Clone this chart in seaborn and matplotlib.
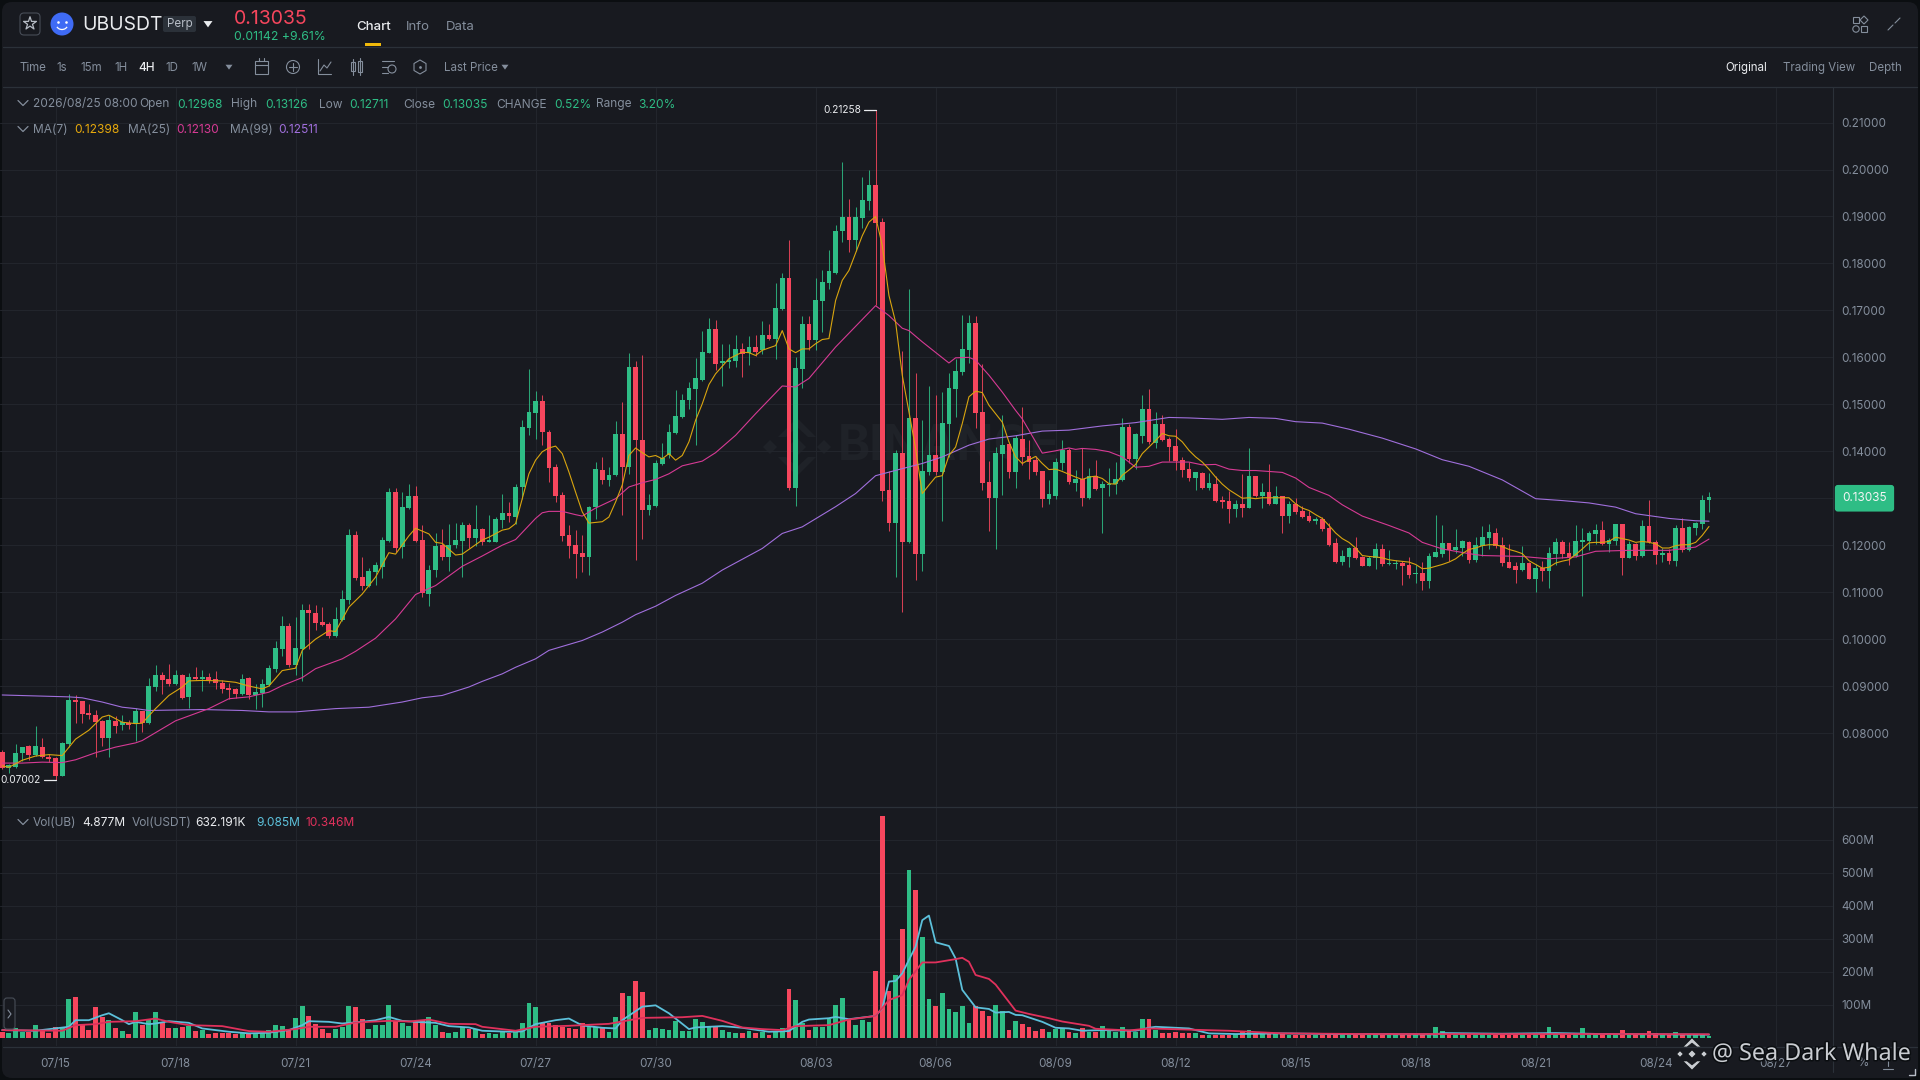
import numpy as np
import pandas as pd
import matplotlib
matplotlib.use("Agg")
import matplotlib.pyplot as plt
import matplotlib.patheffects as pe
from matplotlib.patches import Circle, FancyBboxPatch, Polygon, Arc, Rectangle
import seaborn as sns

# prices are written in units of 0.0001
opens = [760,726,727,757,772,754,771,750,747,709,
         776,870,869,843,839,826,790,826,818,821,
         822,846,821,899,924,916,904,924,876,920,
         916,919,916,907,896,894,884,917,880,886,
         903,937,979,1028,945,979,1061,1056,1036,1033,
         1006,1040,1084,1222,1132,1113,1142,1154,1208,1314,
         1196,1279,1304,1211,1096,1148,1200,1174,1200,1208,
         1243,1216,1234,1207,1207,1253,1269,1260,1323,1450,
         1482,1506,1442,1367,1306,1221,1201,1184,1174,1281,
         1361,1338,1349,1436,1367,1579,1425,1274,1284,1372,
         1391,1439,1473,1509,1532,1552,1610,1660,1587,1591,
         1593,1618,1610,1622,1615,1648,1640,1702,1769,1322,
         1576,1671,1637,1720,1758,1780,1868,1899,1849,1896,
         1934,1967,1888,1317,1248,1397,1206,1470,1182,1355,
         1391,1355,1459,1532,1569,1616,1674,1484,1335,1301,
         1395,1415,1356,1427,1389,1381,1357,1299,1305,1376,
         1402,1333,1340,1301,1347,1321,1329,1330,1338,1452,
         1383,1433,1489,1418,1457,1427,1411,1382,1363,1344,
         1353,1322,1331,1296,1295,1277,1288,1279,1348,1305,
         1314,1288,1304,1262,1288,1272,1262,1252,1255,1237,
         1204,1165,1175,1194,1175,1156,1172,1191,1159,1160,
         1162,1158,1138,1141,1123,1175,1182,1204,1189,1194,
         1207,1168,1199,1215,1227,1201,1165,1155,1148,1163,
         1128,1151,1144,1182,1206,1184,1177,1207,1209,1223,
         1232,1203,1208,1245,1173,1203,1177,1240,1207,1180,
         1184,1166,1237,1189,1236,1246,1296.8]
closes = [726,731,758,770,754,772,750,745,709,779,
          870,866,841,838,823,790,827,816,823,818,
          846,822,901,924,913,905,924,875,920,916,
          919,913,907,894,891,884,916,880,887,905,
          939,982,1028,945,981,1061,1055,1035,1030,1006,
          1042,1086,1222,1130,1113,1145,1157,1210,1314,1194,
          1282,1304,1208,1098,1148,1199,1174,1201,1210,1243,
          1216,1234,1207,1211,1255,1269,1262,1324,1451,1484,
          1506,1440,1364,1305,1219,1199,1182,1174,1282,1362,
          1338,1350,1436,1367,1579,1424,1274,1285,1374,1386,
          1441,1475,1510,1535,1555,1612,1660,1586,1593,1595,
          1618,1608,1622,1612,1648,1640,1705,1769,1322,1578,
          1671,1637,1722,1761,1784,1869,1899,1849,1899,1935,
          1967,1886,1315,1248,1397,1206,1470,1182,1357,1391,
          1355,1461,1534,1571,1618,1674,1482,1333,1301,1397,
          1414,1356,1428,1387,1377,1355,1299,1308,1377,1402,
          1335,1342,1301,1348,1319,1331,1331,1340,1452,1383,
          1436,1489,1420,1457,1423,1409,1379,1361,1343,1355,
          1322,1332,1294,1292,1277,1288,1279,1348,1305,1314,
          1287,1304,1262,1288,1270,1260,1252,1255,1235,1201,
          1165,1177,1194,1172,1156,1173,1191,1160,1162,1162,
          1156,1137,1141,1124,1177,1185,1205,1189,1197,1208,
          1168,1201,1217,1228,1199,1162,1152,1148,1163,1128,
          1152,1144,1184,1206,1182,1175,1208,1211,1225,1233,
          1203,1210,1245,1173,1203,1177,1240,1206,1180,1184,
          1166,1237,1189,1239,1248,1297,1303.5]
highs = [763,735,777,770,774,815,789,756,749,781,
         884,880,869,862,850,827,838,836,839,827,
         854,847,917,945,930,948,935,926,928,940,
         935,928,933,912,907,896,925,919,905,914,
         945,995,1050,1035,1047,1074,1074,1073,1069,1036,
         1068,1105,1235,1231,1174,1151,1164,1218,1322,1321,
         1313,1330,1325,1242,1157,1226,1234,1246,1248,1250,
         1248,1285,1236,1264,1260,1310,1291,1331,1467,1576,
         1529,1519,1446,1372,1313,1243,1232,1221,1283,1377,
         1388,1367,1464,1505,1609,1592,1606,1310,1381,1418,
         1457,1530,1523,1547,1598,1657,1684,1679,1629,1629,
         1648,1631,1645,1647,1677,1672,1759,1779,1849,1601,
         1689,1688,1769,1786,1829,1881,2015,1937,1921,1985,
         1999,2125.8,1897,1358,1402,1613,1746,1567,1467,1538,
         1520,1526,1567,1597,1691,1691,1688,1586,1379,1409,
         1477,1416,1434,1494,1425,1390,1357,1338,1386,1425,
         1407,1360,1406,1365,1382,1336,1365,1377,1470,1457,
         1438,1519,1533,1484,1477,1430,1448,1388,1377,1356,
         1355,1354,1347,1304,1316,1296,1352,1408,1348,1333,
         1373,1327,1304,1295,1301,1283,1272,1261,1261,1248,
         1216,1190,1196,1217,1177,1176,1205,1203,1189,1169,
         1167,1175,1158,1164,1184,1265,1243,1205,1235,1212,
         1209,1217,1241,1245,1237,1218,1203,1164,1199,1165,
         1160,1167,1196,1216,1210,1206,1243,1237,1230,1245,
         1252,1216,1245,1245,1209,1204,1254,1296,1212,1194,
         1191,1243,1258,1240,1249,1306,1312.6]
lows = [723,714,726,740,742,751,747,738,700.2,708,
        770,822,822,829,748,772,748,799,806,809,
        784,802,820,889,883,901,903,872,854,913,
        889,907,894,885,872,874,880,872,852,855,
        901,930,965,940,924,911,978,1020,1028,1003,
        1005,1039,1075,1125,1105,1111,1115,1131,1206,1185,
        1173,1276,1206,1089,1071,1132,1168,1145,1194,1133,
        1193,1199,1201,1206,1206,1237,1250,1246,1299,1434,
        1427,1413,1335,1292,1208,1173,1131,1143,1136,1255,
        1330,1325,1347,1264,1352,1168,1213,1265,1282,1370,
        1386,1437,1471,1491,1413,1549,1609,1574,1539,1577,
        1579,1559,1584,1603,1608,1638,1596,1700,1317,1284,
        1535,1615,1615,1654,1746,1778,1845,1825,1827,1876,
        1914,1711,1294,1231,1132,1057,1205,1126,1145,1349,
        1350,1251,1388,1473,1562,1588,1450,1317,1231,1191,
        1306,1344,1321,1370,1340,1350,1282,1287,1298,1360,
        1331,1315,1284,1299,1317,1225,1305,1308,1337,1374,
        1363,1418,1416,1407,1421,1380,1360,1345,1336,1317,
        1320,1318,1293,1279,1248,1260,1259,1279,1302,1280,
        1286,1287,1226,1248,1267,1258,1250,1245,1230,1199,
        1162,1158,1153,1170,1155,1155,1150,1155,1157,1150,
        1116,1130,1120,1105,1109,1174,1174,1167,1184,1178,
        1162,1165,1178,1192,1195,1155,1151,1120,1145,1127,
        1101,1124,1109,1157,1172,1158,1174,1091,1189,1203,
        1201,1185,1201,1137,1172,1168,1175,1205,1160,1164,
        1160,1155,1185,1188,1222,1235,1271.1]

# volume in millions
volumes = [17,15,28,18,16,37,20,15,32,33,
           118,123,41,23,92,63,53,28,20,11,
           78,37,58,78,48,29,28,32,35,21,
           23,11,15,15,13,10,13,11,13,15,
           23,38,35,25,60,97,66,41,25,15,
           27,33,96,92,57,26,38,38,99,50,
           43,35,48,54,62,38,18,14,18,31,
           25,27,11,14,11,18,13,16,45,104,
           94,43,44,38,33,28,26,43,33,31,
           28,16,62,135,125,172,138,22,30,26,
           23,50,20,21,57,47,33,33,24,17,
           15,14,20,14,16,9,17,28,146,114,
           43,23,33,32,58,98,119,57,38,53,
           49,201,672,141,190,329,508,447,305,116,
           96,136,87,79,95,43,95,82,66,100,
           81,23,50,41,33,20,26,17,25,30,
           18,15,29,16,16,34,19,18,32,24,
           16,57,58,23,14,13,18,13,15,13,
           9,9,8,8,9,10,20,22,11,11,
           11,10,10,8,9,8,8,7,9,11,
           10,9,8,8,9,7,8,9,8,7,
           8,9,7,10,9,31,20,10,9,12,
           11,9,10,8,9,9,8,10,9,9,
           10,12,33,12,10,9,11,28,12,10,
           11,9,10,22,10,9,8,20,13,11,
           9,18,11,10,9,11,4.877]

# moving averages, at the candle numbers given
ma7_idx = [0,1,3,5,7,9,11,13,15,16,18,20,21,23,25,27,28,30,33,35,37,39,40,42,44,45,47,49,50,52,54,56,58,59,61,62,64,65,66,68,69,72,73,75,76,77,78,79,80,81,82,83,84,85,86,87,88,90,91,92,93,94,95,96,97,98,99,100,101,102,103,104,105,106,107,108,109,111,112,113,114,116,117,118,119,120,121,122,123,124,125,126,127,129,130,131,132,133,134,135,136,137,138,139,140,141,142,143,144,145,146,147,148,149,150,151,152,153,154,155,156,157,158,159,160,161,162,163,164,165,166,167,168,169,170,171,172,173,174,175,176,177,178,179,180,181,182,183,184,185,186,187,188,189,190,191,192,193,194,195,196,197,198,199,200,201,202,203,204,205,206,207,208,209,211,212,213,214,216,217,218,219,220,221,222,223,224,225,226,227,228,229,231,232,233,234,235,236,237,238,239,240,241,242,243,244,245,246,247,248,249,250,251,252,253,254,255,256]
ma7 = [730,727,742,751,754,752,787,806,834,838,823,820,821,852,880,898,911,912,911,908,900,894,900,933,938,976,1000,1018,1016,1068,1096,1132,1184,1181,1220,1236,1224,1206,1204,1179,1181,1211,1217,1232,1235,1246,1299,1352,1381,1399,1407,1411,1395,1356,1313,1271,1247,1250,1260,1292,1328,1391,1407,1397,1388,1391,1384,1395,1381,1391,1420,1466,1501,1542,1565,1581,1597,1611,1610,1604,1615,1625,1657,1618,1610,1618,1618,1629,1638,1640,1721,1764,1785,1859,1888,1900,1838,1732,1675,1562,1484,1406,1310,1328,1345,1348,1391,1409,1459,1516,1528,1525,1498,1480,1462,1420,1388,1374,1382,1389,1374,1361,1362,1357,1351,1345,1340,1345,1347,1342,1331,1330,1349,1360,1372,1395,1409,1423,1438,1433,1432,1420,1402,1388,1377,1362,1345,1330,1318,1309,1300,1301,1299,1301,1301,1301,1301,1301,1288,1279,1274,1265,1257,1242,1226,1214,1206,1194,1178,1176,1175,1173,1169,1167,1164,1159,1150,1151,1159,1164,1171,1182,1191,1194,1199,1201,1201,1197,1191,1187,1182,1167,1151,1153,1162,1166,1169,1180,1192,1205,1206,1206,1208,1217,1214,1211,1206,1208,1206,1203,1194,1194,1199,1201,1201,1206,1221,1239.8]

ma25_idx = [0,3,6,9,11,14,17,20,21,26,31,34,37,40,42,45,47,51,53,56,59,62,65,69,72,75,77,80,81,82,84,86,87,89,92,94,96,98,100,102,105,107,110,113,117,119,121,125,131,133,135,136,138,142,143,145,146,148,150,152,153,156,158,160,161,162,164,166,168,170,172,174,178,180,182,184,186,188,192,194,196,199,201,204,208,211,213,216,220,222,228,232,236,239,244,250,254,256]
ma25 = [736,736,738,737,743,758,770,779,784,826,852,873,877,887,901,918,937,958,974,1002,1043,1095,1114,1155,1177,1200,1212,1257,1269,1272,1272,1265,1262,1279,1299,1324,1333,1340,1352,1369,1379,1397,1434,1480,1539,1537,1555,1622,1710,1689,1662,1657,1633,1588,1599,1600,1594,1562,1526,1487,1469,1396,1401,1407,1404,1406,1404,1399,1388,1366,1368,1377,1377,1371,1372,1362,1359,1359,1355,1343,1323,1306,1286,1262,1242,1226,1206,1192,1182,1178,1176,1171,1175,1187,1189,1189,1196,1213]

ma99_idx = [0,10,12,15,18,20,22,30,36,40,44,50,55,60,63,66,70,72,75,77,80,82,87,90,93,95,98,101,105,108,114,117,120,125,128,131,135,138,141,145,148,152,156,160,165,170,175,178,183,187,191,194,198,202,207,212,216,220,225,230,234,238,242,245,250,254,256]
ma99 = [881,877,875,866,855,852,848,850,848,845,845,852,855,866,875,880,898,910,926,940,958,976,997,1015,1036,1052,1070,1093,1119,1147,1193,1225,1239,1282,1310,1348,1363,1374,1388,1413,1426,1433,1443,1445,1454,1461,1472,1471,1468,1472,1470,1463,1460,1447,1428,1405,1382,1368,1339,1299,1295,1290,1281,1267,1257,1252,1251.1]

# volume averages in millions
vol_ma_fast_idx = [0,5,10,11,13,15,16,18,19,20,22,23,25,28,30,34,37,40,43,45,46,49,51,54,56,58,60,62,65,67,70,72,76,78,80,83,85,87,90,92,93,96,98,100,103,104,108,111,115,118,120,121,124,125,127,131,132,133,134,135,137,138,139,140,142,143,144,146,148,149,151,152,153,156,158,160,162,165,170,172,173,178,181,185,192,200,215,216,225,233,240,250,256]
vol_ma_fast = [23,21,33,53,53,68,74,53,41,48,41,43,50,45,28,18,13,15,23,38,50,48,43,48,53,63,51,48,45,35,31,21,18,19,41,53,58,37,30,28,53,94,98,74,26,31,35,30,18,20,48,55,59,63,56,66,89,170,172,195,276,356,370,289,278,240,145,92,87,76,78,69,68,48,30,28,21,23,21,30,33,28,13,11,13,11,10,14,12,14,11,10,9.085]
vol_ma_slow_idx = [0,9,11,14,16,20,23,25,28,33,37,40,44,46,50,53,58,61,64,67,71,72,77,80,85,91,96,102,105,108,111,114,117,119,124,127,131,133,135,136,138,140,143,144,145,146,148,149,152,154,157,159,163,164,169,172,177,184,192,205,225,245,256]
vol_ma_slow = [23,21,38,41,48,50,58,48,38,35,20,18,26,33,33,46,51,49,55,42,41,33,21,33,36,42,60,62,66,51,31,26,23,35,38,55,66,114,129,175,228,228,238,242,230,190,178,161,82,72,59,49,36,27,22,28,25,21,13,11,11,11,10.346]

price_ticks = [0.08,0.09,0.10,0.11,0.12,0.13,0.14,0.15,0.16,0.17,0.18,0.19,0.20,0.21]
vol_ticks = [100,200,300,400,500,600]
date_labels = ["07/15","07/18","07/21","07/24","07/27","07/30","08/03","08/06","08/09","08/12","08/15","08/18","08/21","08/24","08/27"]
date_days = [0,3,6,9,12,15,19,22,25,28,31,34,37,40,43]

BG = "#181A20"
GRID = "#22252C"
LINE = "#2B3139"
GREY = "#848E9C"
GREEN = "#2EBD85"
RED = "#F6465D"
YEL = "#D9A50F"
PINK = "#D63A94"
PURP = "#A06FDC"
CYAN = "#5CC0DA"
VRED = "#E0315C"

sns.set_theme(style="darkgrid", rc={"axes.facecolor": "none", "figure.facecolor": "#0B0E11",
                                    "grid.color": GRID, "grid.linewidth": 0.8,
                                    "axes.edgecolor": BG})
plt.rcParams["font.family"] = ["Inter", "DejaVu Sans"]

W, H = 1920, 1080
fig = plt.figure(figsize=(W / 100, H / 100), dpi=100)


def pixel_axes(left, top, right, bottom, **kw):
    return fig.add_axes([left / W, 1 - bottom / H, (right - left) / W, (bottom - top) / H], **kw)


def full_axes(z):
    a = fig.add_axes([0, 0, 1, 1], zorder=z)
    a.set_xlim(0, W)
    a.set_ylim(H, 0)
    a.axis("off")
    return a


back = full_axes(0)
ax = pixel_axes(0, 87, 1833, 806, zorder=1)
ax_vol = pixel_axes(0, 806, 1833, 1046, zorder=1)
top = full_axes(2)

# panel and faint logo
back.add_patch(FancyBboxPatch((10, 10), 1900, 1060, boxstyle="round,pad=8,rounding_size=10", fc=BG, ec="none"))
wm = "#1F2228"
for cx, cy, r in [(797, 447, 9), (770, 447, 7), (824, 447, 7)]:
    back.add_patch(Polygon([(cx - r, cy), (cx, cy - r), (cx + r, cy), (cx, cy + r)], fc=wm, ec="none"))
back.add_patch(Polygon([(797, 418), (816, 437), (808, 437), (797, 427), (786, 437), (778, 437)], fc=wm, ec="none"))
back.add_patch(Polygon([(797, 476), (816, 457), (808, 457), (797, 467), (786, 457), (778, 457)], fc=wm, ec="none"))
back.text(838, 447, "BINANCE", color=wm, fontsize=35, fontweight="bold", va="center", ha="left")

# candles
idx = np.arange(len(closes))
o, c, h, l = [np.array(a) / 10000 for a in (opens, closes, highs, lows)]
up = c >= o
side = np.where(up, "up", "down")
colors = np.where(up, GREEN, RED)
ax.vlines(idx, l, h, colors=colors, linewidth=0.75, alpha=0.85, zorder=2)
ax.bar(idx, np.abs(c - o), bottom=np.minimum(o, c), width=0.72, color=colors, linewidth=0, zorder=3)

for xs, ys, col in [(ma99_idx, ma99, PURP), (ma25_idx, ma25, PINK), (ma7_idx, ma7, YEL)]:
    sns.lineplot(x=xs, y=np.array(ys) / 10000, color=col, linewidth=0.8, errorbar=None, ax=ax, zorder=4)

ax.set_xlim(-0.33, 274.6)
ax.set_ylim(0.06446, 0.21757)
ax.set_yticks(price_ticks)
ax.set_yticklabels([f"{t:.5f}" for t in price_ticks])
tick_pos = [8 + 6 * d for d in date_days]
ax.set_xticks(tick_pos)
ax.tick_params(axis="x", labelbottom=False, length=0)
ax.yaxis.tick_right()
ax.tick_params(axis="y", length=0, pad=5.8, labelsize=8.4, labelcolor=GREY)
ax.set_xlabel("")
ax.grid(True)
for s in ax.spines.values():
    s.set_visible(False)

# high and low markers
hi = int(np.argmax(h))
lo = int(np.argmin(l))
ax.plot([hi - 1.75, hi], [h[hi], h[hi]], color="#EAECEF", lw=0.9, zorder=5)
ax.text(hi - 2.2, h[hi], f"{h[hi]:.5f}", color="#EAECEF", fontsize=7.3, ha="right", va="center", zorder=5)
ax.plot([lo - 1.75, lo], [l[lo], l[lo]], color="#EAECEF", lw=0.9, zorder=5)
ax.text(lo - 2.2, l[lo], f"{l[lo]:.5f}", color="#EAECEF", fontsize=7.3, ha="right", va="center", zorder=5)

# last price tag
ax.annotate(f"{c[-1]:.5f}", xy=(1864.5 / 1833, c[-1]), xycoords=ax.get_yaxis_transform(), xytext=(0, -1.2),
            textcoords="offset points", color="#F5F5F5", fontsize=8.5, ha="center", va="center",
            annotation_clip=False, zorder=6,
            bbox=dict(boxstyle="round,pad=0.62,rounding_size=0.25", fc=GREEN, ec="none"))

# volume panel
vol_df = pd.DataFrame({"i": idx, "vol": volumes, "side": side})
sns.barplot(data=vol_df, x="i", y="vol", hue="side", palette={"up": GREEN, "down": RED}, native_scale=True,
            dodge=False, width=0.72, saturation=1, errorbar=None, legend=False, linewidth=0, ax=ax_vol, zorder=2)
sns.lineplot(x=vol_ma_fast_idx, y=vol_ma_fast, color=CYAN, linewidth=1.3, errorbar=None, ax=ax_vol, zorder=3)
sns.lineplot(x=vol_ma_slow_idx, y=vol_ma_slow, color=VRED, linewidth=1.3, errorbar=None, ax=ax_vol, zorder=4)
ax_vol.set_xlim(-0.33, 274.6)
ax_vol.set_ylim(-25.2, 702)
ax_vol.set_yticks(vol_ticks)
ax_vol.set_yticklabels([f"{t}M" for t in vol_ticks])
ax_vol.set_xticks(tick_pos)
ax_vol.set_xticklabels(date_labels)
ax_vol.yaxis.tick_right()
ax_vol.tick_params(axis="y", length=0, pad=5.8, labelsize=8.4, labelcolor=GREY)
ax_vol.tick_params(axis="x", length=0, pad=8.8, labelsize=8.4, labelcolor=GREY)
ax_vol.set_xlabel("")
ax_vol.set_ylabel("")
ax_vol.grid(True)
for s in ax_vol.spines.values():
    s.set_visible(False)

# frame lines
for y in [46.5, 86.5, 806.5, 1046.5]:
    top.plot([3, 1917], [y, y], color=LINE, lw=0.9)
top.plot([1833, 1833], [87, 1072], color=LINE, lw=0.8)


def label(x, y, s, color=GREY, size=8.3, **kw):
    kw.setdefault("va", "center")
    top.text(x, y, s, color=color, fontsize=size, **kw)


def chevron(x, y):
    top.plot([x - 5, x, x + 5], [y - 2.5, y + 2.5, y - 2.5], color=GREY, lw=0.9)


def tri(x, y, size=4, color=GREY):
    top.add_patch(Polygon([(x - size, y - size * 0.65), (x + size, y - size * 0.65), (x, y + size * 0.75)], fc=color, ec="none"))


# header
top.add_patch(FancyBboxPatch((20, 13), 20, 22, boxstyle="round,pad=0,rounding_size=4", fc="none", ec="#474D57", lw=0.8))
top.scatter([30], [23.5], marker="*", s=95, fc="none", ec="#B7BDC6", linewidths=0.9)
top.add_patch(Circle((62, 24), 11.5, fc="#3F6BF5", ec="none"))
top.scatter([58, 66], [22, 22], s=3.5, c="white", linewidths=0)
top.add_patch(Arc((62, 25), 11, 9, theta1=20, theta2=160, color="white", lw=0.9))
label(82, 24.5, "UBUSDT", "#EAECEF", 13.9)
top.add_patch(FancyBboxPatch((163, 16), 33, 16, boxstyle="round,pad=0,rounding_size=2", fc="#2B3139", ec="none"))
label(179.5, 24, "Perp", "#B7BDC6", 8.4, ha="center")
tri(208, 24, 4.5, "#EAECEF")
label(234, 18.5, "0.13035", RED, 14)
label(234, 37, "0.01142 +9.61%", GREEN, 8.8)
label(356, 27.5, "Chart", "#EAECEF", 9.5, fontweight="medium")
label(406, 27.5, "Info", GREY, 9.5)
label(446, 27.5, "Data", GREY, 9.5)
top.add_patch(Rectangle((365, 43), 16, 3, fc="#F0B90B", ec="none"))

# toolbar
for x, s in [(19, "Time"), (56, "1s"), (80, "15m"), (114, "1H"), (165, "1D"), (191, "1W")]:
    label(x, 68, s, GREY, 8.3)
label(138, 68, "4H", "#EAECEF", 8.5, fontweight="medium")
tri(229, 67, 3.5)
ic = GREY
top.add_patch(Rectangle((255, 61), 13, 13, fc="none", ec=ic, lw=0.8))
top.plot([255, 268], [65, 65], color=ic, lw=0.8)
top.plot([259, 259], [58, 61], color=ic, lw=0.8)
top.plot([264, 264], [58, 61], color=ic, lw=0.8)
top.add_patch(Circle((293, 67), 6.5, fc="none", ec=ic, lw=0.8))
top.plot([289, 297], [67, 67], color=ic, lw=0.8)
top.plot([293, 293], [63, 71], color=ic, lw=0.8)
top.plot([318, 318, 331], [59, 74, 74], color=ic, lw=0.8)
top.plot([320, 324, 327, 331], [71, 65, 68, 62], color=ic, lw=0.8)
top.add_patch(Rectangle((351, 62), 4, 9, fc="none", ec=ic, lw=0.8))
top.add_patch(Rectangle((358, 61), 4, 11, fc="none", ec=ic, lw=0.8))
top.plot([353, 353], [59, 75], color=ic, lw=0.8)
top.plot([360, 360], [58, 75], color=ic, lw=0.8)
top.plot([382, 394], [61, 61], color=ic, lw=0.8)
top.plot([382, 388], [67, 67], color=ic, lw=0.8)
top.plot([382, 388], [73, 73], color=ic, lw=0.8)
top.add_patch(Circle((392, 69), 4, fc="none", ec=ic, lw=0.8))
top.add_patch(Polygon([(420, 60), (426, 63.5), (426, 70.5), (420, 74), (414, 70.5), (414, 63.5)], fc="none", ec=ic, lw=0.8))
top.scatter([420], [67], s=4, c=ic, linewidths=0)
label(444, 68, "Last Price", GREY, 8.3)
tri(505, 67, 3.5)
label(1725, 68, "Original", "#EAECEF", 8.3)
label(1783, 68, "Trading View", GREY, 8.3)
label(1869, 68, "Depth", GREY, 8.3)
top.add_patch(Rectangle((1853, 17), 6, 6, fc="none", ec=GREY, lw=0.8))
top.add_patch(Polygon([(1864, 16), (1868, 20), (1864, 24), (1860, 20)], fc="none", ec=GREY, lw=0.8))
top.add_patch(Circle((1856, 29), 3.2, fc="none", ec=GREY, lw=0.8))
top.add_patch(Rectangle((1861, 26), 6, 6, fc="none", ec=GREY, lw=0.8))
top.plot([1888, 1893], [30, 25], color=GREY, lw=0.8)
top.plot([1895, 1900], [23, 18], color=GREY, lw=0.8)

# legends
chevron(23, 103)
row = [(33, "2026/08/25 08:00", GREY), (139, "Open", GREY), (177, "0.12968", GREEN), (231, "High", GREY),
       (265, "0.13126", GREEN), (319, "Low", GREY), (349, "0.12711", GREEN), (403, "Close", GREY),
       (442, "0.13035", GREEN), (496, "CHANGE", GREY), (554, "0.52%", GREEN), (596, "Range", GREY), (638, "3.20%", GREEN)]
for x, s, col in row:
    label(x, 104.5, s, col, 8.6)
chevron(23, 129)
for x, s, col in [(33, "MA(7)", GREY), (74, "0.12398", "#E7A90C"), (128, "MA(25)", GREY), (176, "0.12130", PINK),
                  (230, "MA(99)", GREY), (278, "0.12511", PURP)]:
    label(x, 130, s, col, 8.6)
chevron(23, 822)
for x, s, col in [(33, "Vol(UB)", GREY), (82, "4.877M", "#EAECEF"), (132, "Vol(USDT)", GREY), (195, "632.191K", "#EAECEF"),
                  (256, "9.085M", CYAN), (306, "10.346M", VRED)]:
    label(x, 822.5, s, col, 8.6)

# little handle on the left of the volume panel
top.add_patch(FancyBboxPatch((4, 998), 11, 31, boxstyle="round,pad=0,rounding_size=3", fc=BG, ec="#474D57", lw=0.8))
top.plot([8, 11, 8], [1010, 1014, 1018], color=GREY, lw=0.8)

# bottom right corner
label(1863, 1063, "%", GREY, 8.3, ha="center")
top.plot([1883, 1893], [1069, 1069], color=GREY, lw=0.8)
top.plot([1888, 1888], [1057, 1066], color=GREY, lw=0.8)
top.plot([1909, 1915, 1915], [1075, 1075, 1069], color="#B7BDC6", lw=1)

# reposter's mark
halo = [pe.withStroke(linewidth=2.2, foreground="#0B0E11")]
mark = "#C9CCD1"
for cx, cy, r in [(1692, 1054, 4), (1680, 1054, 3.2), (1704, 1054, 3.2)]:
    pts = [(cx - r, cy), (cx, cy - r), (cx + r, cy), (cx, cy + r)]
    top.add_patch(Polygon(pts, fc=mark, ec="#0B0E11", lw=0.4))
top.add_patch(Polygon([(1692, 1038), (1701, 1047), (1697, 1047), (1692, 1043), (1687, 1047), (1683, 1047)], fc=mark, ec="#0B0E11", lw=0.4))
top.add_patch(Polygon([(1692, 1070), (1701, 1061), (1697, 1061), (1692, 1065), (1687, 1061), (1683, 1061)], fc=mark, ec="#0B0E11", lw=0.4))
top.text(1712, 1054, "@ Sea Dark Whale", color=mark, fontsize=16.8, family=["Noto Sans", "DejaVu Sans"],
         va="center", ha="left", path_effects=halo)

fig.savefig("out.png", dpi=100, facecolor=fig.get_facecolor())
